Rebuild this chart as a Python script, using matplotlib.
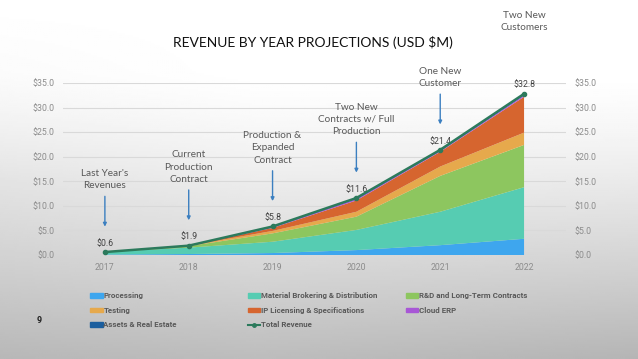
import matplotlib.pyplot as plt
import numpy as np
from matplotlib.patches import Patch
from matplotlib.lines import Line2D

years = [2017, 2018, 2019, 2020, 2021, 2022]
processing = [0.1, 0.2, 0.4, 1.0, 2.0, 3.3]
material = [0.5, 1.3, 2.3, 4.1, 6.8, 10.5]
rnd = [0.0, 0.3, 1.7, 2.7, 7.3, 8.6]
testing = [0.0, 0.1, 0.5, 1.0, 1.9, 2.5]
ip_lic = [0.0, 0.0, 0.6, 2.3, 3.0, 7.3]
cloud = [0.0, 0.0, 0.2, 0.3, 0.2, 0.3]
assets = [0.0, 0.0, 0.1, 0.2, 0.2, 0.3]
total = [0.6, 1.9, 5.8, 11.6, 21.4, 32.8]

notes = ["Last Year's\nRevenues", "Current\nProduction\nContract",
         "Production &\nExpanded\nContract", "Two New\nContracts w/ Full\nProduction",
         "One New\nCustomer", "Two New\nCustomers"]

series_names = ["Processing", "Material Brokering & Distribution", "R&D and Long-Term Contracts",
                "Testing", "IP Licensing & Specifications", "Cloud ERP", "Assets & Real Estate"]
colors = ["#3ea6ee", "#56ccb2", "#8dc65f", "#e6a94c", "#d6652f", "#a857d6", "#1b5e9e"]
line_color = "#2c7a5c"
gray = "#595959"

fig = plt.figure(figsize=(6.38, 3.59), dpi=100)

# gradient background (white top, grey bottom)
bg = fig.add_axes([0, 0, 1, 1], zorder=-10)
xx, yy = np.meshgrid(np.linspace(0, 1, 320), np.linspace(0, 1, 180))
shade = 1 - (0.24 + 0.05 * xx) * np.clip((yy - 0.2) / 0.8, 0, 1) ** 1.3
shade -= 0.04 * np.clip(1 - xx * 2.5, 0, 1) * np.clip(yy * 2, 0, 1)
bg.imshow(shade, cmap="gray", vmin=0, vmax=1, aspect="auto", extent=[0, 1, 0, 1], origin="upper")
bg.axis("off")

ax = fig.add_axes([0.0987, 0.2897, 0.7884, 0.4791])
ax.patch.set_alpha(0)
ax.stackplot(years, processing, material, rnd, testing, ip_lic, cloud, assets,
             colors=colors, linewidth=0)
ax.plot(years, total, color=line_color, lw=1.8, marker="o", ms=3, zorder=5)

for x, v in zip(years, total):
    ax.annotate(f"${v}", (x, v), xytext=(0, 3), textcoords="offset points",
                ha="center", va="bottom", fontsize=6.3, color="#404040", family="Roboto")

# arrows with notes
for x, v, t in zip(years, total, notes):
    tip = v + 4.6
    ax.annotate("", xy=(x, tip), xytext=(x, tip + 7.3),
                arrowprops=dict(arrowstyle="-|>", color="#3b7fc0", lw=1.0, mutation_scale=5))
    ax.text(x, tip + 8.0, t, ha="center", va="bottom", fontsize=7.2, color=gray,
            family="Lato", linespacing=1.45, clip_on=False)

ax.set_xlim(2016.5, 2022.5)
ax.set_ylim(0, 35)
ax.set_xticks(years)
ax.set_yticks(np.arange(0, 36, 5))
ax.set_yticklabels([f"${v:.1f}" for v in np.arange(0, 36, 5)])
ax.grid(axis="y", color="#d9d9d9", lw=0.8)
ax.set_axisbelow(True)
for s in ax.spines.values():
    s.set_visible(False)
ax.tick_params(length=0, labelsize=6.3, labelcolor="#8c8c8c", pad=6)
for lbl in ax.get_xticklabels() + ax.get_yticklabels():
    lbl.set_family("Roboto")

ax2 = ax.twinx()
ax2.set_ylim(0, 35)
ax2.set_yticks(np.arange(0, 36, 5))
ax2.set_yticklabels([f"${v:.1f}" for v in np.arange(0, 36, 5)])
for s in ax2.spines.values():
    s.set_visible(False)
ax2.tick_params(length=0, labelsize=6.3, labelcolor="#8c8c8c", pad=6)
for lbl in ax2.get_yticklabels():
    lbl.set_family("Roboto")

fig.text(0.491, 0.882, "REVENUE BY YEAR PROJECTIONS (USD $M)", ha="center", va="center",
         fontsize=10, family="Lato", color="#111111")
fig.text(0.058, 0.1, "9", fontsize=6.5, weight="bold", family="Roboto", color="#222222")

# legend in three columns
handles = [Patch(color=c) for c in colors]
handles.append(Line2D([0], [0], color=line_color, lw=1.5, marker="o", ms=2.5))
labels = series_names + ["Total Revenue"]
cols = [[0, 3, 6], [1, 4, 7], [2, 5]]
xpos = [0.141, 0.388, 0.636]
for xp, idx in zip(xpos, cols):
    fig.legend([handles[i] for i in idx], [labels[i] for i in idx], loc="upper left",
               bbox_to_anchor=(xp, 0.186), bbox_transform=fig.transFigure,
               frameon=False, handlelength=1.6, handleheight=0.5, handletextpad=0.1,
               labelspacing=0.95, borderaxespad=0, borderpad=0,
               prop={"family": "Roboto", "weight": "bold", "size": 5.7}, labelcolor=gray)

fig.savefig("out.png", dpi=100)
